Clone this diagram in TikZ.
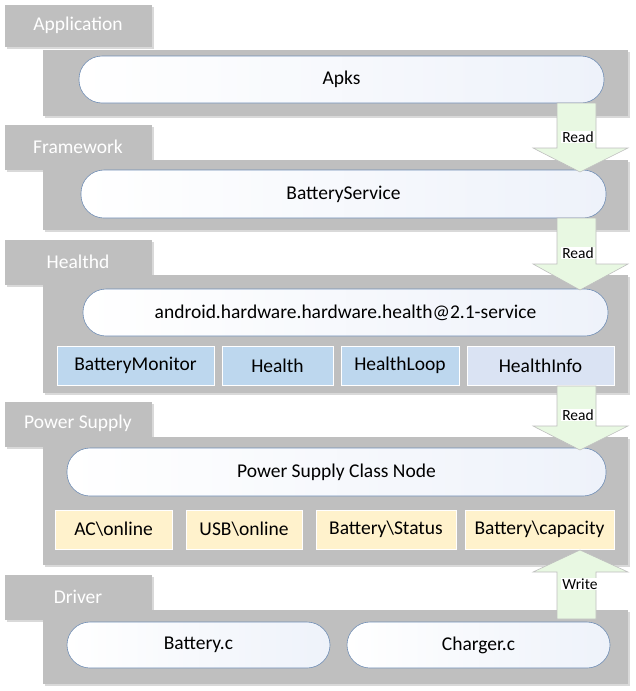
\documentclass[tikz,border=0pt]{standalone}
\usepackage{fontspec}
\setmainfont{Carlito}
\usetikzlibrary{shadows}
\definecolor{tabgrey}{HTML}{BFBFBF}
\definecolor{pillline}{HTML}{6E8CB4}
\definecolor{pillfill}{HTML}{EEF2FA}
\definecolor{bluebox}{HTML}{BDD7EE}
\definecolor{lavbox}{HTML}{DAE3F3}
\definecolor{yelbox}{HTML}{FFF2CC}
\definecolor{arrfill}{HTML}{E8F8E2}
\begin{document}
\begin{tikzpicture}[x=1pt,y=-1pt,
  tab/.style={fill=tabgrey,drop shadow={shadow xshift=2pt,shadow yshift=-2pt,opacity=0.3}},
  panel/.style={fill=tabgrey,drop shadow={shadow xshift=2pt,shadow yshift=-2pt,opacity=0.3}},
  tabtext/.style={text=white,font=\fontsize{19.5}{22}\selectfont},
  pill/.style={draw=pillline,rounded corners=23pt,left color=white,right color=pillfill,line width=0.6pt},
  txt/.style={font=\fontsize{19.5}{22}\selectfont},
  arr/.style={fill=arrfill,draw=tabgrey,line width=0.6pt},
  albl/.style={fill=white,inner sep=1pt,font=\fontsize{15.5}{17}\selectfont}]
\useasboundingbox (0,0) rectangle (635,691);
\newcommand{\layer}[5]{%
  \fill[tab] (5,#1) rectangle (152,#2);
  \node[tabtext] at (78,{(#1+#2)/2-1}) {#5};
  \fill[panel] (43,#3) rectangle (628,#4);}
\layer{5}{47}{50}{116}{Application}
\layer{125}{170}{160}{230}{Framework}
\layer{240}{285}{275}{393}{Healthd}
\layer{402}{447}{437}{565}{Power Supply}
\layer{575}{620}{610}{684}{Driver}
% pills
\draw[pill] (79,56) rectangle (604,103); \node[txt] (apks) at (341.5,79.5) {Apks};
\draw[pill] (81,170) rectangle (606,218); \node[txt] (bs) at (343.5,194) {BatteryService};
\draw[pill] (83,289) rectangle (608,336); \node[txt] (hal) at (345.5,312.5) {android.hardware.hardware.health@2.1-service};
\draw[pill] (67,448) rectangle (606,496); \node[txt] (psc) at (336.5,472) {Power Supply Class Node};
\draw[pill] (67,622) rectangle (330,668); \node[txt] (bat) at (198.5,645) {Battery.c};
\draw[pill] (347,622) rectangle (610,668); \node[txt] (chg) at (478.5,645) {Charger.c};
% boxes
\tikzset{bx/.style={draw=white,line width=0.8pt}}
\draw[bx,fill=bluebox] (57,346) rectangle (214,385); \node[txt] at (135.5,365.5) {BatteryMonitor};
\draw[bx,fill=bluebox] (222,346) rectangle (333,385); \node[txt] at (277.5,365.5) {Health};
\draw[bx,fill=bluebox] (341,346) rectangle (459,385); \node[txt] at (400,365.5) {HealthLoop};
\draw[bx,fill=lavbox] (467,346) rectangle (614,385); \node[txt] (hi) at (540.5,365.5) {HealthInfo};
\draw[bx,fill=yelbox] (55,510) rectangle (172,549); \node[txt] at (113.5,529.5) {AC\textbackslash online};
\draw[bx,fill=yelbox] (186,510) rectangle (302,549); \node[txt] at (244,529.5) {USB\textbackslash online};
\draw[bx,fill=yelbox] (316,510) rectangle (456,549); \node[txt] at (386,529.5) {Battery\textbackslash Status};
\draw[bx,fill=yelbox] (465,510) rectangle (614,549); \node[txt] (cap) at (539.5,529.5) {Battery\textbackslash capacity};
% arrows down
\newcommand{\downarr}[4]{%
  \draw[arr] (557,#1) -- (596,#1) -- (596,#2) -- (628,#2) -- (580,#3) -- (533,#2) -- (557,#2) -- cycle;
  \node[albl] at (578,{#2-11}) {#4};}
\downarr{103}{148}{172}{Read}
\downarr{218}{264}{290}{Read}
\downarr{386}{426}{450}{Read}
% arrow up
\draw[arr] (557,619) -- (596,619) -- (596,572) -- (628,572) -- (580,550) -- (533,572) -- (557,572) -- cycle;
\node[albl] at (580,584) {Write};
\end{tikzpicture}
\end{document}
